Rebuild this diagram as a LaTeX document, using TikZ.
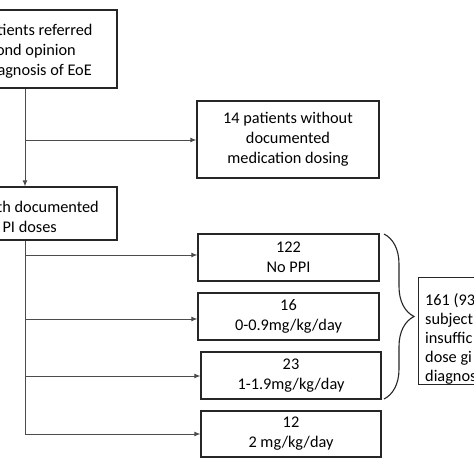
\documentclass[tikz,border=0pt]{standalone}
\usepackage{fontspec}
\setmainfont{Carlito}
\usetikzlibrary{arrows.meta,decorations.pathreplacing}
\begin{document}
\begin{tikzpicture}[x=1pt,y=-1pt,
 boxst/.style={draw=black!85, line width=1.2pt, inner sep=0pt, align=center, font=\fontsize{16.3}{20}\selectfont},
 txt/.style={inner sep=0pt, font=\fontsize{16.3}{20}\selectfont},
 conn/.style={draw=black!70, line width=1pt},
 arr/.style={conn, -{Latex[length=6pt,width=5pt]}}]
\useasboundingbox (0,0) rectangle (474,474);
\clip (0,0) rectangle (474,474);
\fill[white] (0,0) rectangle (474,474);

% top box (cut at left edge)
\node[boxst, minimum width=140pt, minimum height=78pt] (top) at (47,49) {};
\node[txt, anchor=base east] (t1) at (92.7,35) {tients referred};
\node[txt, anchor=base east] (t2) at (76,55) {ond opinion};
\node[txt, anchor=base east] (t3) at (92,75) {agnosis of EoE};

% second box (cut at left edge)
\node[boxst, minimum width=140pt, minimum height=53pt] (mid) at (47,213.5) {};
\node[txt, anchor=base east] (m1) at (99,212) {th documented};
\node[txt, anchor=base east] (m2) at (57,232) {PI doses};

% right-hand boxes
\node[boxst, minimum width=182pt, minimum height=77pt] (box14) at (288,139.5) {14 patients without\\documented\\medication dosing};
\node[boxst, minimum width=181pt, minimum height=47pt] (b1) at (288.5,257.5) {122\\No PPI};
\node[boxst, minimum width=181pt, minimum height=47pt] (b2) at (288.5,316.5) {16\\0-0.9mg/kg/day};
\node[boxst, minimum width=180pt, minimum height=47pt] (b3) at (291,375.5) {23\\1-1.9mg/kg/day};
\node[boxst, minimum width=180pt, minimum height=46pt] (b4) at (291,434) {12\\2 mg/kg/day};

% summary box (cut at right edge)
\node[boxst, minimum width=72pt, minimum height=107pt, anchor=north west] (rb) at (418,277) {};
\node[txt, anchor=north west, align=left, font=\fontsize{16.3}{19}\selectfont] (rt) at (425,293.5) {161 (93\\subject\\insuffic\\dose gi\\diagnos};

% connectors
\coordinate (j0) at (25,140);
\coordinate (j1) at (25,255);
\coordinate (j2) at (25,319);
\coordinate (j3) at (25,376);
\coordinate (j4) at (25,434);
\draw[arr] (top.south -| j0) -- (mid.north -| j0);
\draw[arr] (j0) -- (j0 -| box14.west);
\draw[conn] (mid.south -| j1) -- (j4);
\draw[arr] (j1) -- (j1 -| b1.west);
\draw[arr] (j2) -- (j2 -| b2.west);
\draw[arr] (j3) -- (j3 -| b3.west);
\draw[arr] (j4) -- (j4 -| b4.west);

% brace
\draw[draw=black!85, line width=1.1pt, decorate, decoration={brace, amplitude=30pt, aspect=0.5}] (384,234) -- (384,399);
\end{tikzpicture}
\end{document}
